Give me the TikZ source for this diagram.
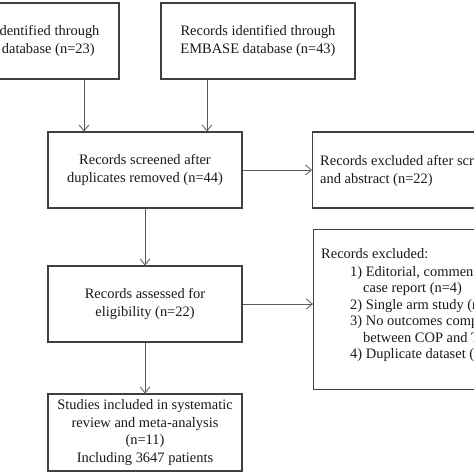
\documentclass[tikz,border=0pt]{standalone}
\usepackage{fontspec}
\setmainfont{Liberation Serif}
\usetikzlibrary{arrows.meta}
\begin{document}
\begin{tikzpicture}[x=1pt,y=-1pt,
  box/.style={draw=black!75, line width=1.2pt, minimum width=194pt, minimum height=76pt, inner sep=0pt},
  txt/.style={font=\fontsize{14.45}{17.5}\selectfont, text=black!90, inner sep=0pt},
  arr/.style={draw=black!65, line width=0.8pt, -{Straight Barb[length=6pt,width=10pt]}}]
\useasboundingbox (0,0) rectangle (474,474);
\clip (0,0) rectangle (474,474);
\fill[white] (0,0) rectangle (474,474);
% boxes
\node[box, txt, align=center] (pub) at (22,41) {Records identified through\\PubMed database (n=23)};
\node[box, txt, align=center] (emb) at (258,41) {Records identified through\\EMBASE database (n=43)};
\node[box, txt, align=center] (scr) at (145,170) {Records screened after\\duplicates removed (n=44)};
\node[box, minimum width=218pt, anchor=west] (exa) at (312,170) {};
\node[txt, anchor=west, align=left] (exat) at (320,171) {Records excluded after screening title\\and abstract (n=22)};
\node[box, txt, align=center] (ass) at (145,304) {Records assessed for\\eligibility (n=22)};
\node[box, minimum width=218pt, minimum height=160pt, anchor=north west] (exb) at (313,229) {};
\node[txt, anchor=base west] (l1) at (321,258) {Records excluded:};
\node[txt, anchor=base west] (l2) at (350,276) {1) Editorial, commentary, or};
\node[txt, anchor=base west] (l3) at (363,292.5) {case report (n=4)};
\node[txt, anchor=base west] (l4) at (350,309) {2) Single arm study (n=3)};
\node[txt, anchor=base west] (l5) at (350,325.5) {3) No outcomes compared};
\node[txt, anchor=base west] (l6) at (363,342) {between COP and TAP (n=3)};
\node[txt, anchor=base west] (l7) at (350,358.5) {4) Duplicate dataset (n=1)};
\node[box, txt, align=center, minimum height=77pt] (inc) at (145,432.5) {Studies included in systematic\\review and meta-analysis\\(n=11)\\Including 3647 patients};
% connectors
\draw[arr] ([xshift=62pt]pub.south) -- ([xshift=-61pt]scr.north);
\draw[arr] ([xshift=-51pt]emb.south) -- ([xshift=62pt]scr.north);
\draw[arr] (scr.east) -- (exa.west);
\draw[arr] (scr.south) -- (ass.north);
\draw[arr] (ass.east) -- (ass.east -| exb.west);
\draw[arr] (ass.south) -- (inc.north);
\end{tikzpicture}
\end{document}
